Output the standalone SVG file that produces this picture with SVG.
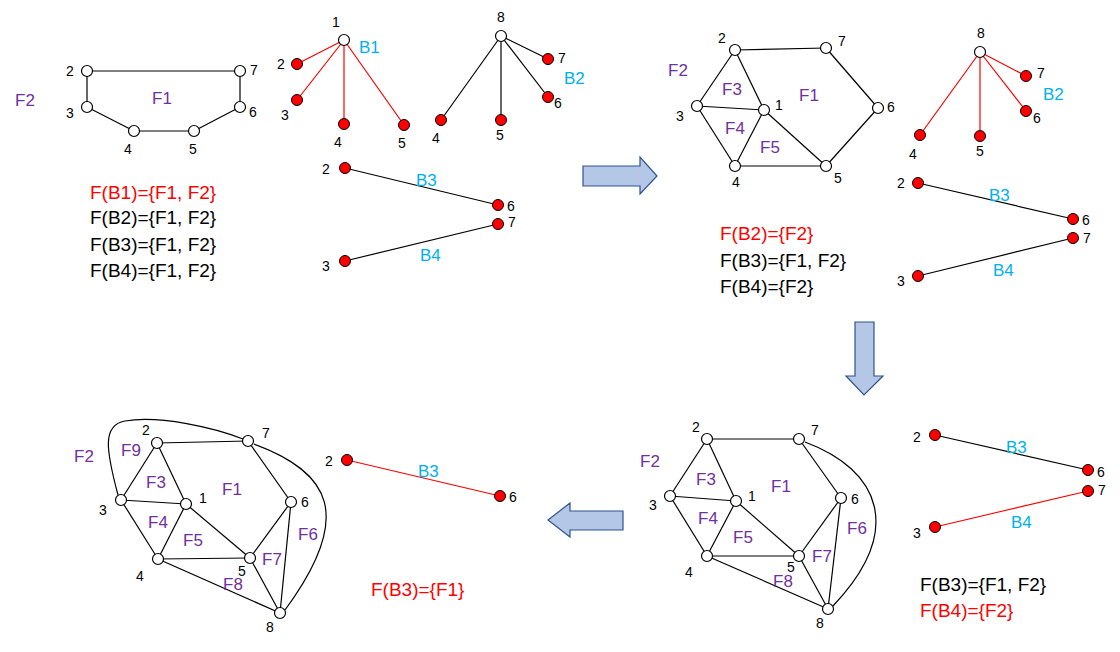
<svg xmlns="http://www.w3.org/2000/svg" width="1120" height="652" viewBox="0 0 1120 652">
<style>
text{font-family:"Liberation Sans",Arial,sans-serif}
.n{font-size:14px;fill:#000}
.f{font-size:17px;fill:#7030a0}
.b{font-size:17px;fill:#00b0f0}
.t{font-size:19px;fill:#000}
.r{fill:#ff0000}
.e line,.e path{stroke:#000;stroke-width:1.2;fill:none}
.e .re{stroke:#ff0000}
.w{fill:#fff;stroke:#000;stroke-width:1.2}
.d{fill:#ff0000;stroke:#000;stroke-width:1}
.ar{fill:#b4c7e7;stroke:#2f528f;stroke-width:1.2}
</style>
<g id="connectors" class="e">
<line x1="87" y1="71" x2="240" y2="71"/><line x1="87" y1="71" x2="87" y2="107"/><line x1="240" y1="71" x2="240" y2="107"/>
<line x1="87" y1="107" x2="134" y2="131"/><line x1="134" y1="131" x2="194" y2="131"/><line x1="194" y1="131" x2="240" y2="107"/>
<line class="re" x1="344" y1="40" x2="297" y2="64"/><line class="re" x1="344" y1="40" x2="297" y2="100"/><line class="re" x1="344" y1="40" x2="344" y2="124"/><line class="re" x1="344" y1="40" x2="404" y2="125"/>
<line x1="501" y1="36" x2="441" y2="120"/><line x1="501" y1="36" x2="501" y2="120"/><line x1="501" y1="36" x2="548" y2="97"/><line x1="501" y1="36" x2="548" y2="59"/>
<line x1="345" y1="168" x2="498" y2="205"/><line x1="345" y1="261" x2="498" y2="224"/>
<line x1="735" y1="50" x2="826" y2="48"/><line x1="735" y1="50" x2="697" y2="106"/><line x1="735" y1="50" x2="764" y2="110"/>
<line x1="697" y1="106" x2="764" y2="110"/><line x1="697" y1="106" x2="735" y2="166"/><line x1="764" y1="110" x2="735" y2="166"/>
<line x1="764" y1="110" x2="826" y2="166"/><line x1="735" y1="166" x2="826" y2="166"/><line x1="826" y1="48" x2="878" y2="108"/><line x1="878" y1="108" x2="826" y2="166"/>
<line class="re" x1="980" y1="52" x2="920" y2="135"/><line class="re" x1="980" y1="52" x2="980" y2="136"/><line class="re" x1="980" y1="52" x2="1026" y2="111"/><line class="re" x1="980" y1="52" x2="1026" y2="76"/>
<line x1="918" y1="183" x2="1073" y2="219"/><line x1="918" y1="276" x2="1073" y2="238"/>
<line x1="707" y1="439" x2="799" y2="439"/><line x1="707" y1="439" x2="670" y2="496"/><line x1="707" y1="439" x2="736" y2="501"/>
<line x1="670" y1="496" x2="736" y2="501"/><line x1="670" y1="496" x2="707" y2="556"/><line x1="736" y1="501" x2="707" y2="556"/>
<line x1="736" y1="501" x2="799" y2="556"/><line x1="707" y1="556" x2="799" y2="556"/><line x1="799" y1="439" x2="841" y2="498"/><line x1="841" y1="498" x2="799" y2="556"/>
<line x1="841" y1="498" x2="828" y2="609"/><line x1="799" y1="556" x2="828" y2="609"/><line x1="707" y1="556" x2="828" y2="609"/>
<path d="M805,442 C880,470 905,530 833,606"/>
<line x1="935" y1="435" x2="1088" y2="470"/><line class="re" x1="935" y1="527" x2="1088" y2="491"/>
<line x1="157" y1="443" x2="248" y2="441"/><line x1="157" y1="443" x2="121" y2="500"/><line x1="157" y1="443" x2="186" y2="504"/>
<line x1="121" y1="500" x2="186" y2="504"/><line x1="121" y1="500" x2="158" y2="559"/><line x1="186" y1="504" x2="158" y2="559"/>
<line x1="186" y1="504" x2="250" y2="558"/><line x1="158" y1="559" x2="250" y2="558"/><line x1="248" y1="441" x2="291" y2="502"/><line x1="291" y1="502" x2="250" y2="558"/>
<line x1="291" y1="502" x2="280" y2="613"/><line x1="250" y1="558" x2="280" y2="613"/><line x1="158" y1="559" x2="280" y2="613"/>
<path d="M118,495 C106,450 102,425 125,421 C160,415 215,428 243,439"/>
<path d="M254,444 C330,472 355,515 285,610"/>
<line class="re" x1="347" y1="460" x2="500" y2="496"/>
</g>
<g id="arrows">
<path class="ar" d="M583,166 H640 V157 L657,176 L640,194 V186 H583 Z"/>
<path class="ar" d="M855,322 H874 V376 H883 L864,395 L846,376 H855 Z"/>
<path class="ar" d="M623,511 H570 V503 L548,520 L570,537 V530 H623 Z"/>
</g>
<g id="panel1">
<circle class="w" cx="87" cy="71" r="5.5"/><circle class="w" cx="240" cy="71" r="5.5"/><circle class="w" cx="87" cy="107" r="5.5"/><circle class="w" cx="240" cy="107" r="5.5"/><circle class="w" cx="134" cy="131" r="5.5"/><circle class="w" cx="194" cy="131" r="5.5"/>
<text class="n" x="66" y="76">2</text><text class="n" x="250" y="75">7</text><text class="n" x="66" y="118">3</text><text class="n" x="249" y="117">6</text><text class="n" x="124" y="154">4</text><text class="n" x="189" y="154">5</text>
<text class="f" x="152" y="104">F1</text><text class="f" x="15" y="106">F2</text>
</g>
<g id="B1">
<circle class="w" cx="344" cy="40" r="5.5"/><circle class="d" cx="297" cy="64" r="5.5"/><circle class="d" cx="297" cy="100" r="5.5"/><circle class="d" cx="344" cy="124" r="5.5"/><circle class="d" cx="404" cy="125" r="5.5"/>
<text class="n" x="332" y="27">1</text><text class="n" x="277" y="69">2</text><text class="n" x="281" y="120">3</text><text class="n" x="334" y="147">4</text><text class="n" x="398" y="148">5</text>
<text class="b" x="359" y="53">B1</text>
</g>
<g id="B2a">
<circle class="w" cx="501" cy="36" r="5.5"/><circle class="d" cx="441" cy="120" r="5.5"/><circle class="d" cx="501" cy="120" r="5.5"/><circle class="d" cx="548" cy="97" r="5.5"/><circle class="d" cx="548" cy="59" r="5.5"/>
<text class="n" x="497" y="22">8</text><text class="n" x="558" y="63">7</text><text class="n" x="554" y="108">6</text><text class="n" x="432" y="143">4</text><text class="n" x="496" y="140">5</text>
<text class="b" x="564" y="84">B2</text>
</g>
<g id="B34a">
<circle class="d" cx="345" cy="168" r="5.5"/><circle class="d" cx="498" cy="205" r="5.5"/><circle class="d" cx="498" cy="224" r="5.5"/><circle class="d" cx="345" cy="261" r="5.5"/>
<text class="n" x="322" y="174">2</text><text class="n" x="507" y="211">6</text><text class="n" x="508" y="227">7</text><text class="n" x="322" y="271">3</text>
<text class="b" x="416" y="186">B3</text><text class="b" x="420" y="261">B4</text>
</g>
<g id="F1text">
<text class="t r" x="90" y="199">F(B1)={F1, F2}</text>
<text class="t" x="90" y="224">F(B2)={F1, F2}</text>
<text class="t" x="90" y="251">F(B3)={F1, F2}</text>
<text class="t" x="90" y="277">F(B4)={F1, F2}</text>
</g>
<g id="panel2">
<circle class="w" cx="735" cy="50" r="5.5"/><circle class="w" cx="826" cy="48" r="5.5"/><circle class="w" cx="697" cy="106" r="5.5"/><circle class="w" cx="764" cy="110" r="5.5"/><circle class="w" cx="878" cy="108" r="5.5"/><circle class="w" cx="735" cy="166" r="5.5"/><circle class="w" cx="826" cy="166" r="5.5"/>
<text class="n" x="718" y="43">2</text><text class="n" x="838" y="46">7</text><text class="n" x="676" y="121">3</text><text class="n" x="775" y="110">1</text><text class="n" x="887" y="112">6</text><text class="n" x="732" y="187">4</text><text class="n" x="834" y="183">5</text>
<text class="f" x="668" y="76">F2</text><text class="f" x="722" y="95">F3</text><text class="f" x="799" y="101">F1</text><text class="f" x="725" y="134">F4</text><text class="f" x="760" y="153">F5</text>
</g>
<g id="B2b">
<circle class="w" cx="980" cy="52" r="5.5"/><circle class="d" cx="920" cy="135" r="5.5"/><circle class="d" cx="980" cy="136" r="5.5"/><circle class="d" cx="1026" cy="111" r="5.5"/><circle class="d" cx="1026" cy="76" r="5.5"/>
<text class="n" x="977" y="38">8</text><text class="n" x="1037" y="78">7</text><text class="n" x="1033" y="123">6</text><text class="n" x="909" y="159">4</text><text class="n" x="976" y="156">5</text>
<text class="b" x="1043" y="100">B2</text>
</g>
<g id="B34b">
<circle class="d" cx="918" cy="183" r="5.5"/><circle class="d" cx="1073" cy="219" r="5.5"/><circle class="d" cx="1073" cy="238" r="5.5"/><circle class="d" cx="918" cy="276" r="5.5"/>
<text class="n" x="897" y="188">2</text><text class="n" x="1082" y="225">6</text><text class="n" x="1083" y="243">7</text><text class="n" x="897" y="286">3</text>
<text class="b" x="989" y="201">B3</text><text class="b" x="993" y="276">B4</text>
</g>
<g id="F2text">
<text class="t r" x="720" y="240">F(B2)={F2}</text>
<text class="t" x="720" y="267">F(B3)={F1, F2}</text>
<text class="t" x="720" y="293">F(B4)={F2}</text>
</g>
<g id="panel3">
<circle class="w" cx="707" cy="439" r="5.5"/><circle class="w" cx="799" cy="439" r="5.5"/><circle class="w" cx="670" cy="496" r="5.5"/><circle class="w" cx="736" cy="501" r="5.5"/><circle class="w" cx="841" cy="498" r="5.5"/><circle class="w" cx="707" cy="556" r="5.5"/><circle class="w" cx="799" cy="556" r="5.5"/><circle class="w" cx="828" cy="609" r="5.5"/>
<text class="n" x="692" y="432">2</text><text class="n" x="811" y="435">7</text><text class="n" x="649" y="510">3</text><text class="n" x="748" y="501">1</text><text class="n" x="851" y="504">6</text><text class="n" x="685" y="577">4</text><text class="n" x="787" y="572">5</text><text class="n" x="816" y="628">8</text>
<text class="f" x="640" y="467">F2</text><text class="f" x="696" y="485">F3</text><text class="f" x="771" y="492">F1</text><text class="f" x="698" y="524">F4</text><text class="f" x="733" y="543">F5</text><text class="f" x="812" y="562">F7</text><text class="f" x="847" y="534">F6</text><text class="f" x="773" y="587">F8</text>
</g>
<g id="B34c">
<circle class="d" cx="935" cy="435" r="5.5"/><circle class="d" cx="1088" cy="470" r="5.5"/><circle class="d" cx="1088" cy="491" r="5.5"/><circle class="d" cx="935" cy="527" r="5.5"/>
<text class="n" x="913" y="442">2</text><text class="n" x="1097" y="477">6</text><text class="n" x="1098" y="495">7</text><text class="n" x="913" y="538">3</text>
<text class="b" x="1006" y="453">B3</text><text class="b" x="1011" y="528">B4</text>
</g>
<g id="F3text">
<text class="t" x="920" y="591">F(B3)={F1, F2}</text>
<text class="t r" x="920" y="617">F(B4)={F2}</text>
</g>
<g id="panel4">
<circle class="w" cx="157" cy="443" r="5.5"/><circle class="w" cx="248" cy="441" r="5.5"/><circle class="w" cx="121" cy="500" r="5.5"/><circle class="w" cx="186" cy="504" r="5.5"/><circle class="w" cx="291" cy="502" r="5.5"/><circle class="w" cx="158" cy="559" r="5.5"/><circle class="w" cx="250" cy="558" r="5.5"/><circle class="w" cx="280" cy="613" r="5.5"/>
<text class="n" x="142" y="435">2</text><text class="n" x="262" y="438">7</text><text class="n" x="99" y="515">3</text><text class="n" x="199" y="503">1</text><text class="n" x="301" y="507">6</text><text class="n" x="136" y="581">4</text><text class="n" x="238" y="576">5</text><text class="n" x="266" y="632">8</text>
<text class="f" x="74" y="462">F2</text><text class="f" x="121" y="456">F9</text><text class="f" x="146" y="488">F3</text><text class="f" x="222" y="495">F1</text><text class="f" x="148" y="528">F4</text><text class="f" x="183" y="546">F5</text><text class="f" x="298" y="540">F6</text><text class="f" x="262" y="565">F7</text><text class="f" x="223" y="590">F8</text>
</g>
<g id="B3d">
<circle class="d" cx="347" cy="460" r="5.5"/><circle class="d" cx="500" cy="496" r="5.5"/>
<text class="n" x="325" y="466">2</text><text class="n" x="509" y="502">6</text>
<text class="b" x="418" y="477">B3</text>
</g>
<g id="F4text">
<text class="t r" x="371" y="596">F(B3)={F1}</text>
</g>
</svg>
